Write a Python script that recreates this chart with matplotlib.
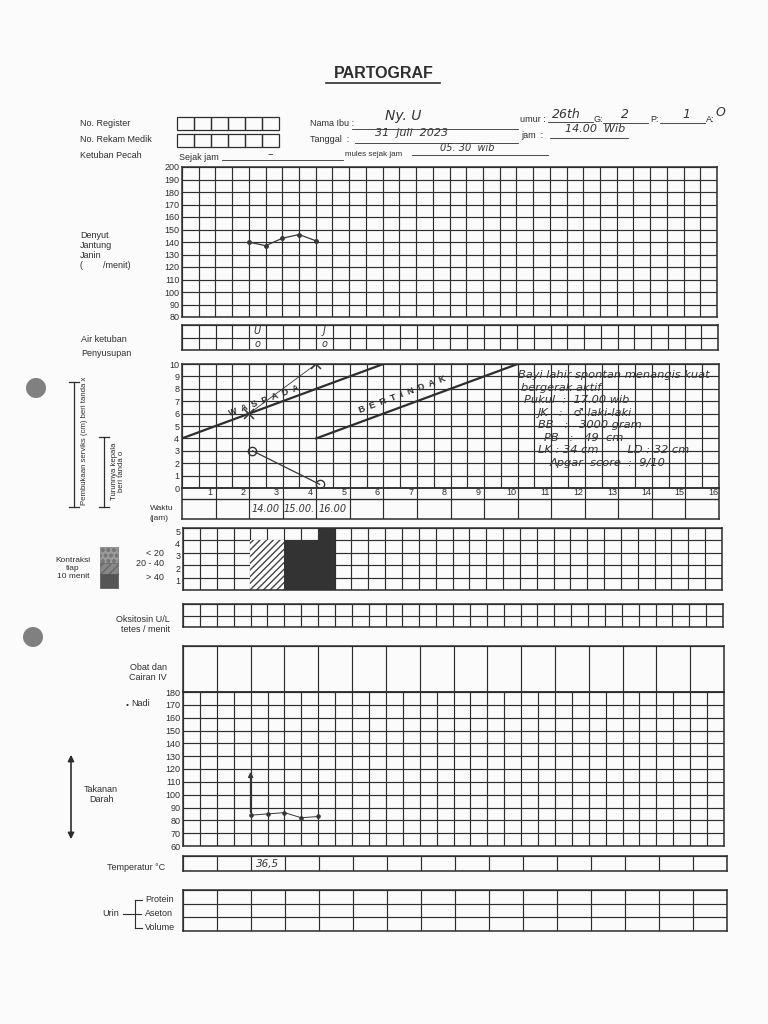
import numpy as np
import matplotlib
matplotlib.use('Agg')
import matplotlib.pyplot as plt
from matplotlib.patches import Rectangle, Ellipse, FancyArrowPatch
from matplotlib.lines import Line2D

plt.rcParams['font.family'] = ['Liberation Sans', 'DejaVu Sans']

W, H = 768, 1024
INK = '#2e2e2e'      # printed lines
PEN = '#363636'      # handwriting
HAND = dict(family='DejaVu Sans', fontstyle='italic', color=PEN)

# ---- data read from the form ----
fhr_time = [2.0, 2.5, 3.0, 3.5, 4.0]
fhr_value = [140, 137, 143, 146, 141]
fhr_ticks = list(range(80, 201, 10))

ketuban_time = [2.0, 4.0]
ketuban_code = ['U', 'J']
molase_code = ['o', 'o']

dilat_time = [2.0, 4.0]
dilat_cm = [6, 10]
descent_time = [2.1, 4.1]
descent_val = [3, 0.3]
cervix_ticks = list(range(0, 11))
hour_labels = [str(h) for h in range(1, 17)]

waktu_time = [2, 3, 4]
waktu_jam = ['14.00', '15.00.', '16.00']

contr_time = [2.0, 2.5, 3.0, 3.5, 4.0]
contr_count = [4, 4, 4, 4, 5]
contr_type = ['20-40', '20-40', '>40', '>40', '>40']

nadi_time = [2.0, 2.5, 3.0, 3.5, 4.0]
nadi_value = [84, 85, 86, 82, 83]
nadi_ticks = list(range(60, 181, 10))
td_time = [2.0]
td_sys = [120]
td_dia = [84]

temp_time = [2]
temp_value = ['36,5']

birth_notes = ['Bayi lahir spontan menangis kuat', 'bergerak aktif', 'Pukul  :  17.00 wib',
               'JK   :   \u2642 laki-laki', 'BB   :   3000 gram', 'PB   :   49  cm',
               'LK : 34 cm        LD : 32 cm', 'Apgar  score  :  9/10']
birth_note_x = [10.0, 10.1, 10.2, 10.6, 10.6, 10.8, 10.6, 10.95]


fig = plt.figure(figsize=(W / 100, H / 100), dpi=100)
fig.patch.set_facecolor('#fbfbfb')


def P(x, y):
    return x / W, 1 - y / H


def T(x, y, s, **kw):
    kw.setdefault('fontsize', 6.5)
    kw.setdefault('color', INK)
    kw.setdefault('va', 'center')
    fig.text(x / W, 1 - y / H, s, **kw)


def L(xs, ys, lw=0.7, **kw):
    fig.add_artist(Line2D([x / W for x in xs], [1 - y / H for y in ys],
                          color=INK, lw=lw, **kw))


def grid_ax(x0, y0, x1, y1, xlim, ylim, xstep, ystep):
    ax = fig.add_axes([x0 / W, 1 - y1 / H, (x1 - x0) / W, (y1 - y0) / H])
    ax.set_xlim(*xlim)
    ax.set_ylim(*ylim)
    ax.set_xticks(np.arange(xlim[0], xlim[1] + 1e-9, xstep))
    ax.set_yticks(np.arange(ylim[0], ylim[1] + 1e-9, ystep))
    ax.grid(True, which='major', color=INK, lw=0.85)
    ax.tick_params(which='both', length=0, labelbottom=False, labelleft=False,
                   labelsize=6.5, pad=2, colors=INK)
    for s in ax.spines.values():
        s.set_color(INK)
        s.set_linewidth(1.1)
    ax.set_facecolor('none')
    ax.set_axisbelow(True)
    return ax


# ---- header ----
T(384, 74, 'PARTOGRAF', fontsize=11.5, fontweight='bold', ha='center')
L([326, 440], [83, 83], lw=1.2)

T(80, 123, 'No. Register')
T(80, 140, 'No. Rekam Medik')
T(80, 156, 'Ketuban Pecah')
for yb in (117, 134):
    for i in range(6):
        fig.add_artist(Rectangle(P(177 + i * 17, yb + 13), 17 / W, 13 / H,
                                 transform=fig.transFigure, fill=False, ec=INK, lw=0.9))

T(310, 123, 'Nama Ibu :')
L([352, 518], [129, 129], lw=0.6)
T(385, 116, 'Ny. U', fontsize=10, **HAND)
T(520, 119, 'umur :')
L([548, 593], [122, 122], lw=0.6)
T(552, 114, '26th', fontsize=9, **HAND)
T(594, 120, 'G:')
L([603, 648], [123, 123], lw=0.6)
T(621, 114, '2', fontsize=9, **HAND)
T(650, 120, 'P:')
L([660, 705], [123, 123], lw=0.6)
T(682, 115, '1', fontsize=9, **HAND)
T(706, 120, 'A:')
T(716, 112, 'O', fontsize=9, **HAND)

T(310, 140, 'Tanggal  :')
L([355, 518], [143, 143], lw=0.6)
T(375, 133, '31  juli  2023', fontsize=8, **HAND)
T(521, 136, 'jam  :')
L([550, 628], [138, 138], lw=0.6)
T(565, 129, '14.00  Wib', fontsize=8, **HAND)

T(179, 157, 'Sejak jam')
L([222, 343], [160, 160], lw=0.6)
T(268, 154, '\u2013', fontsize=8, **HAND)
T(345, 155, 'mules sejak jam', fontsize=5.8)
L([412, 548], [155, 155], lw=0.6)
T(440, 148, '05. 30  wib', fontsize=7, **HAND)

# ---- denyut jantung janin ----
ax = grid_ax(182, 167, 717, 317, (0, 16), (80, 200), 0.5, 10)
ax.set_yticks(fhr_ticks)
ax.set_yticklabels([str(v) for v in fhr_ticks])
ax.tick_params(labelleft=True)
ax.plot(fhr_time, fhr_value, color=PEN, lw=0.9, marker='o', ms=2.5)
T(80, 235, 'Denyut')
T(80, 245, 'Jantung')
T(80, 256, 'Janin')
T(80, 266, '(        /menit)')

# ---- air ketuban / penyusupan ----
ax = grid_ax(182, 325, 718, 350, (0, 16), (0, 2), 0.5, 1)
for t, a, m in zip(ketuban_time, ketuban_code, molase_code):
    ax.text(t + 0.25, 1.5, a, ha='center', va='center', fontsize=7, **HAND)
    ax.text(t + 0.25, 0.5, m, ha='center', va='center', fontsize=7, **HAND)
T(81, 340, 'Air ketuban')
T(81, 353, 'Penyusupan')

# ---- pembukaan serviks ----
ax = grid_ax(182, 364, 719, 488, (0, 16), (0, 10), 0.5, 1)
ax.set_yticks(cervix_ticks)
ax.set_yticklabels([str(v) for v in cervix_ticks])
ax.tick_params(labelleft=True)
ax.plot([0, 6], [4, 10], color=INK, lw=1.6)
ax.plot([4, 10], [4, 10], color=INK, lw=1.6)
ax.plot(dilat_time, dilat_cm, color=PEN, lw=0.6)
ax.plot(dilat_time, dilat_cm, ls='none', marker='x', ms=7, mew=1.1, color=PEN)
ax.plot(descent_time, descent_val, color=PEN, lw=0.9)
ax.plot(descent_time, descent_val, ls='none', marker='o', ms=6, mfc='none', mew=1.0, color=PEN)
ax.text(2.45, 7.05, 'W  A  S  P  A  D  A', rotation=20.5, ha='center', va='center',
        fontsize=6.5, fontweight='bold', color=INK)
ax.text(6.55, 7.55, 'B  E  R  T  I  N  D  A  K', rotation=20.5, ha='center', va='center',
        fontsize=6.5, fontweight='bold', color=INK)
for i, (s, xs) in enumerate(zip(birth_notes, birth_note_x)):
    ax.text(xs, 9.1 - i * 1.01, s, ha='left', va='center', fontsize=8.2, **HAND)

# hour row + waktu row
ax = fig.add_axes([182 / W, 1 - 519 / H, 537 / W, 31 / H])
ax.set_xlim(0, 16)
ax.set_ylim(0, 2)
ax.set_xticks([])
ax.set_yticks([])
for s in ax.spines.values():
    s.set_color(INK)
    s.set_linewidth(1.1)
ax.set_facecolor('none')
ax.axhline(1.3, color=INK, lw=1.0)
for h in range(1, 16):
    ax.axvline(h, color=INK, lw=0.85)
for h, s in enumerate(hour_labels, start=1):
    ax.text(h - 0.18, 1.68, s, ha='center', va='center', fontsize=6.5, color=INK)
for t, s in zip(waktu_time, waktu_jam):
    ax.text(t + 0.5, 0.62, s, ha='center', va='center', fontsize=7, **HAND)
T(150, 508, 'Waktu', fontsize=6)
T(150, 518, '(jam)', fontsize=6)

# side brackets
L([74, 74], [382, 507], lw=0.9)
L([69, 79], [382, 382], lw=0.9)
L([69, 79], [507, 507], lw=0.9)
T(85, 441, 'Pembukaan serviks (cm) beri tanda x', rotation=90, ha='center', fontsize=5.6)
L([104, 104], [437, 507], lw=0.9)
L([99, 109], [437, 437], lw=0.9)
L([99, 109], [507, 507], lw=0.9)
T(118, 471, 'Turunnya kepala\nberi tanda o', rotation=90, ha='center', fontsize=5.6,
  linespacing=1.1)

# ---- kontraksi ----
ax = grid_ax(183, 528, 722, 590, (0, 16), (0, 5), 0.5, 1)
ax.set_yticks([k - 0.25 for k in range(1, 6)], minor=True)
ax.set_yticklabels([str(k) for k in range(1, 6)], minor=True)
ax.tick_params(which='minor', labelleft=True)
for t, n, ty in zip(contr_time, contr_count, contr_type):
    if ty == '20-40':
        ax.bar(t, n, width=0.5, align='edge', color='white', edgecolor='#444',
               hatch='/////', lw=0)
    else:
        ax.bar(t, n, width=0.5, align='edge', color='#333333', lw=0)
ax.grid(True, which='major', color=INK, lw=0.85)
T(164, 553, '< 20', ha='right')
T(164, 563, '20 - 40', ha='right')
T(164, 577, '> 40', ha='right')
T(73, 561, 'Kontraksi', ha='center', fontsize=6)
T(73, 569, 'tiap', ha='center', fontsize=6)
T(73, 577, '10 menit', ha='center', fontsize=6)
fig.add_artist(Rectangle(P(100, 563), 18 / W, 16 / H, transform=fig.transFigure,
                         fc='#9a9a9a', ec='#777', hatch='ooo', lw=0.5))
fig.add_artist(Rectangle(P(100, 574), 18 / W, 11 / H, transform=fig.transFigure,
                         fc='#888', ec='#666', hatch='////', lw=0.5))
fig.add_artist(Rectangle(P(100, 588), 18 / W, 14 / H, transform=fig.transFigure,
                         fc='#555', ec='#555', lw=0.5))

# ---- oksitosin ----
ax = grid_ax(183, 604, 723, 627, (0, 16), (0, 2), 0.5, 1)
T(170, 619, 'Oksitosin U/L', ha='right')
T(170, 629, 'tetes / menit', ha='right')

# ---- obat dan cairan IV ----
ax = grid_ax(183, 646, 724, 692, (0, 16), (0, 1), 1, 1)
T(148, 667, 'Obat dan', ha='center')
T(148, 677, 'Cairan IV', ha='center')

# ---- nadi & tekanan darah ----
ax = grid_ax(183, 692, 724, 846, (0, 16), (60, 180), 0.5, 10)
ax.set_yticks(nadi_ticks)
ax.set_yticklabels([str(v) for v in nadi_ticks])
ax.tick_params(labelleft=True)
ax.plot(nadi_time, nadi_value, color=PEN, lw=0.7, marker='o', ms=2.3)
for t, s, d in zip(td_time, td_sys, td_dia):
    ax.annotate('', xy=(t, s), xytext=(t, d),
                arrowprops=dict(arrowstyle='-|>', color=PEN, lw=1.1, mutation_scale=7))
T(126, 705, '\u2022', fontsize=6)
T(131, 703, 'Nadi')
fig.add_artist(FancyArrowPatch(P(71, 842), P(71, 752), transform=fig.transFigure,
                               arrowstyle='<|-|>', mutation_scale=9, color=INK, lw=1.2))
T(101, 790, 'Takanan', ha='center')
T(101, 800, 'Darah', ha='center')

# ---- temperatur ----
ax = grid_ax(183, 856, 727, 871, (0, 16), (0, 1), 1, 1)
for t, s in zip(temp_time, temp_value):
    ax.text(t + 0.15, 0.5, s, ha='left', va='center', fontsize=7.5, **HAND)
T(107, 868, 'Temperatur \u00b0C')

# ---- urin ----
ax = grid_ax(183, 890, 727, 931, (0, 16), (0, 3), 1, 1)
T(145, 900, 'Protein')
T(145, 914, 'Aseton')
T(145, 928, 'Volume')
T(102, 914, 'Urin')
L([123, 141], [914, 914], lw=0.8)
L([135, 135], [900, 928], lw=0.8)
L([135, 142], [900, 900], lw=0.8)
L([135, 142], [928, 928], lw=0.8)

# punch holes
for cx, cy in [(36, 388), (33, 637)]:
    fig.add_artist(Ellipse(P(cx, cy), 20 / W, 20 / H, transform=fig.transFigure,
                           fc='#6a6a6a', ec='none', alpha=0.85))

fig.savefig('out.png', dpi=100, facecolor=fig.get_facecolor())
